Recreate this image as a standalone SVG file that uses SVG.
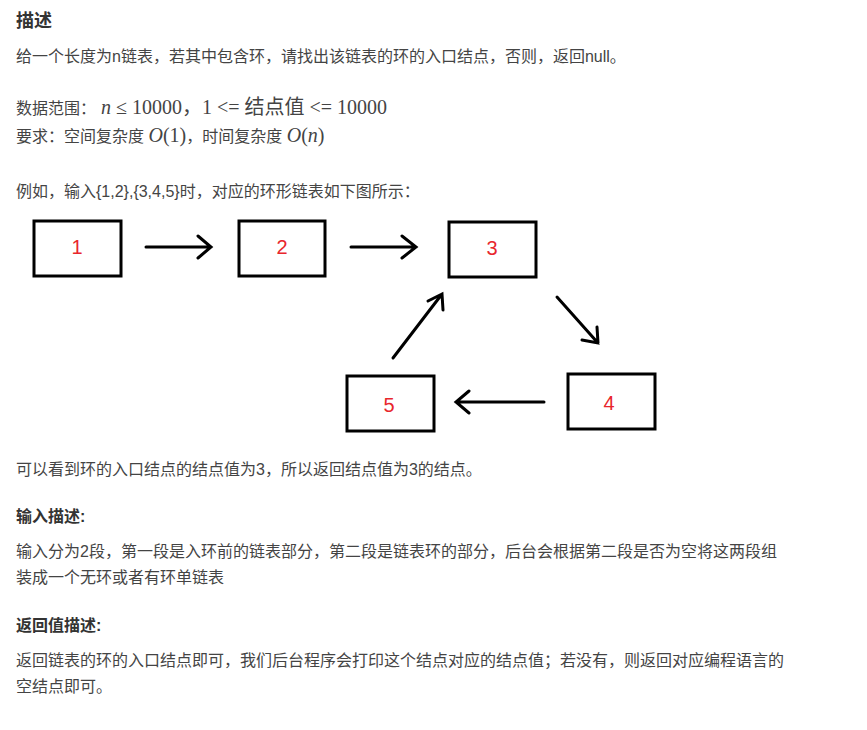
<svg xmlns="http://www.w3.org/2000/svg" width="867" height="730" viewBox="0 0 867 730">
<style>
text{font-family:"Liberation Sans","Noto Sans CJK SC",sans-serif;font-size:16px;fill:#444}
.h{font-weight:bold;font-size:16px;fill:#333}
.m{font-family:"Liberation Serif","Noto Sans CJK SC",serif;font-size:20px}
.i{font-style:italic}
.box{fill:#fff;stroke:#000;stroke-width:3}
.lbl{fill:#e8262c;font-size:20px;text-anchor:middle}
.c{stroke:#000;stroke-width:3;fill:none;stroke-linecap:round}
</style>
<rect width="867" height="730" fill="#fff"/>
<text class="h" x="16" y="27" style="font-size:18px">描述</text>
<text x="16" y="62">给一个长度为n链表，若其中包含环，请找出该链表的环的入口结点，否则，返回null。</text>
<text x="16" y="114">数据范围：<tspan class="m" xml:space="preserve"> <tspan class="i">n</tspan> ≤ 10000，1 &lt;= 结点值 &lt;= 10000</tspan></text>
<text x="16" y="142">要求：空间复杂度 <tspan class="m"><tspan class="i">O</tspan>(1)</tspan>，时间复杂度 <tspan class="m"><tspan class="i">O</tspan>(<tspan class="i">n</tspan>)</tspan></text>
<text x="16" y="197">例如，输入{1,2},{3,4,5}时，对应的环形链表如下图所示：</text>
<g id="n1"><rect class="box" x="34" y="221" width="87" height="55"/><text class="lbl" x="77" y="254">1</text></g>
<g id="n2"><rect class="box" x="239" y="221" width="86" height="55"/><text class="lbl" x="282" y="254">2</text></g>
<g id="n3"><rect class="box" x="449" y="222" width="87" height="55"/><text class="lbl" x="492" y="255">3</text></g>
<g id="n4"><rect class="box" x="568" y="374" width="87" height="55"/><text class="lbl" x="609" y="410">4</text></g>
<g id="n5"><rect class="box" x="347" y="376" width="87" height="55"/><text class="lbl" x="389" y="412">5</text></g>
<g id="connectors">
<path class="c" d="M146 247H211M198 236L211 247L198 258"/>
<path class="c" d="M351 247H416M402 236L416 247L402 258"/>
<path class="c" d="M557 297L598 343M582 340L598 343L597 327"/>
<path class="c" d="M393 358L442 294M428 301L442 294L443 310"/>
<path class="c" d="M544 402H456M469 391L456 402L469 413"/>
</g>
<text x="16" y="475">可以看到环的入口结点的结点值为3，所以返回结点值为3的结点。</text>
<text class="h" x="16" y="522">输入描述:</text>
<text x="16" y="557">输入分为2段，第一段是入环前的链表部分，第二段是链表环的部分，后台会根据第二段是否为空将这两段组</text>
<text x="16" y="583">装成一个无环或者有环单链表</text>
<text class="h" x="16" y="631">返回值描述:</text>
<text x="16" y="666">返回链表的环的入口结点即可，我们后台程序会打印这个结点对应的结点值；若没有，则返回对应编程语言的</text>
<text x="16" y="692">空结点即可。</text>
</svg>
